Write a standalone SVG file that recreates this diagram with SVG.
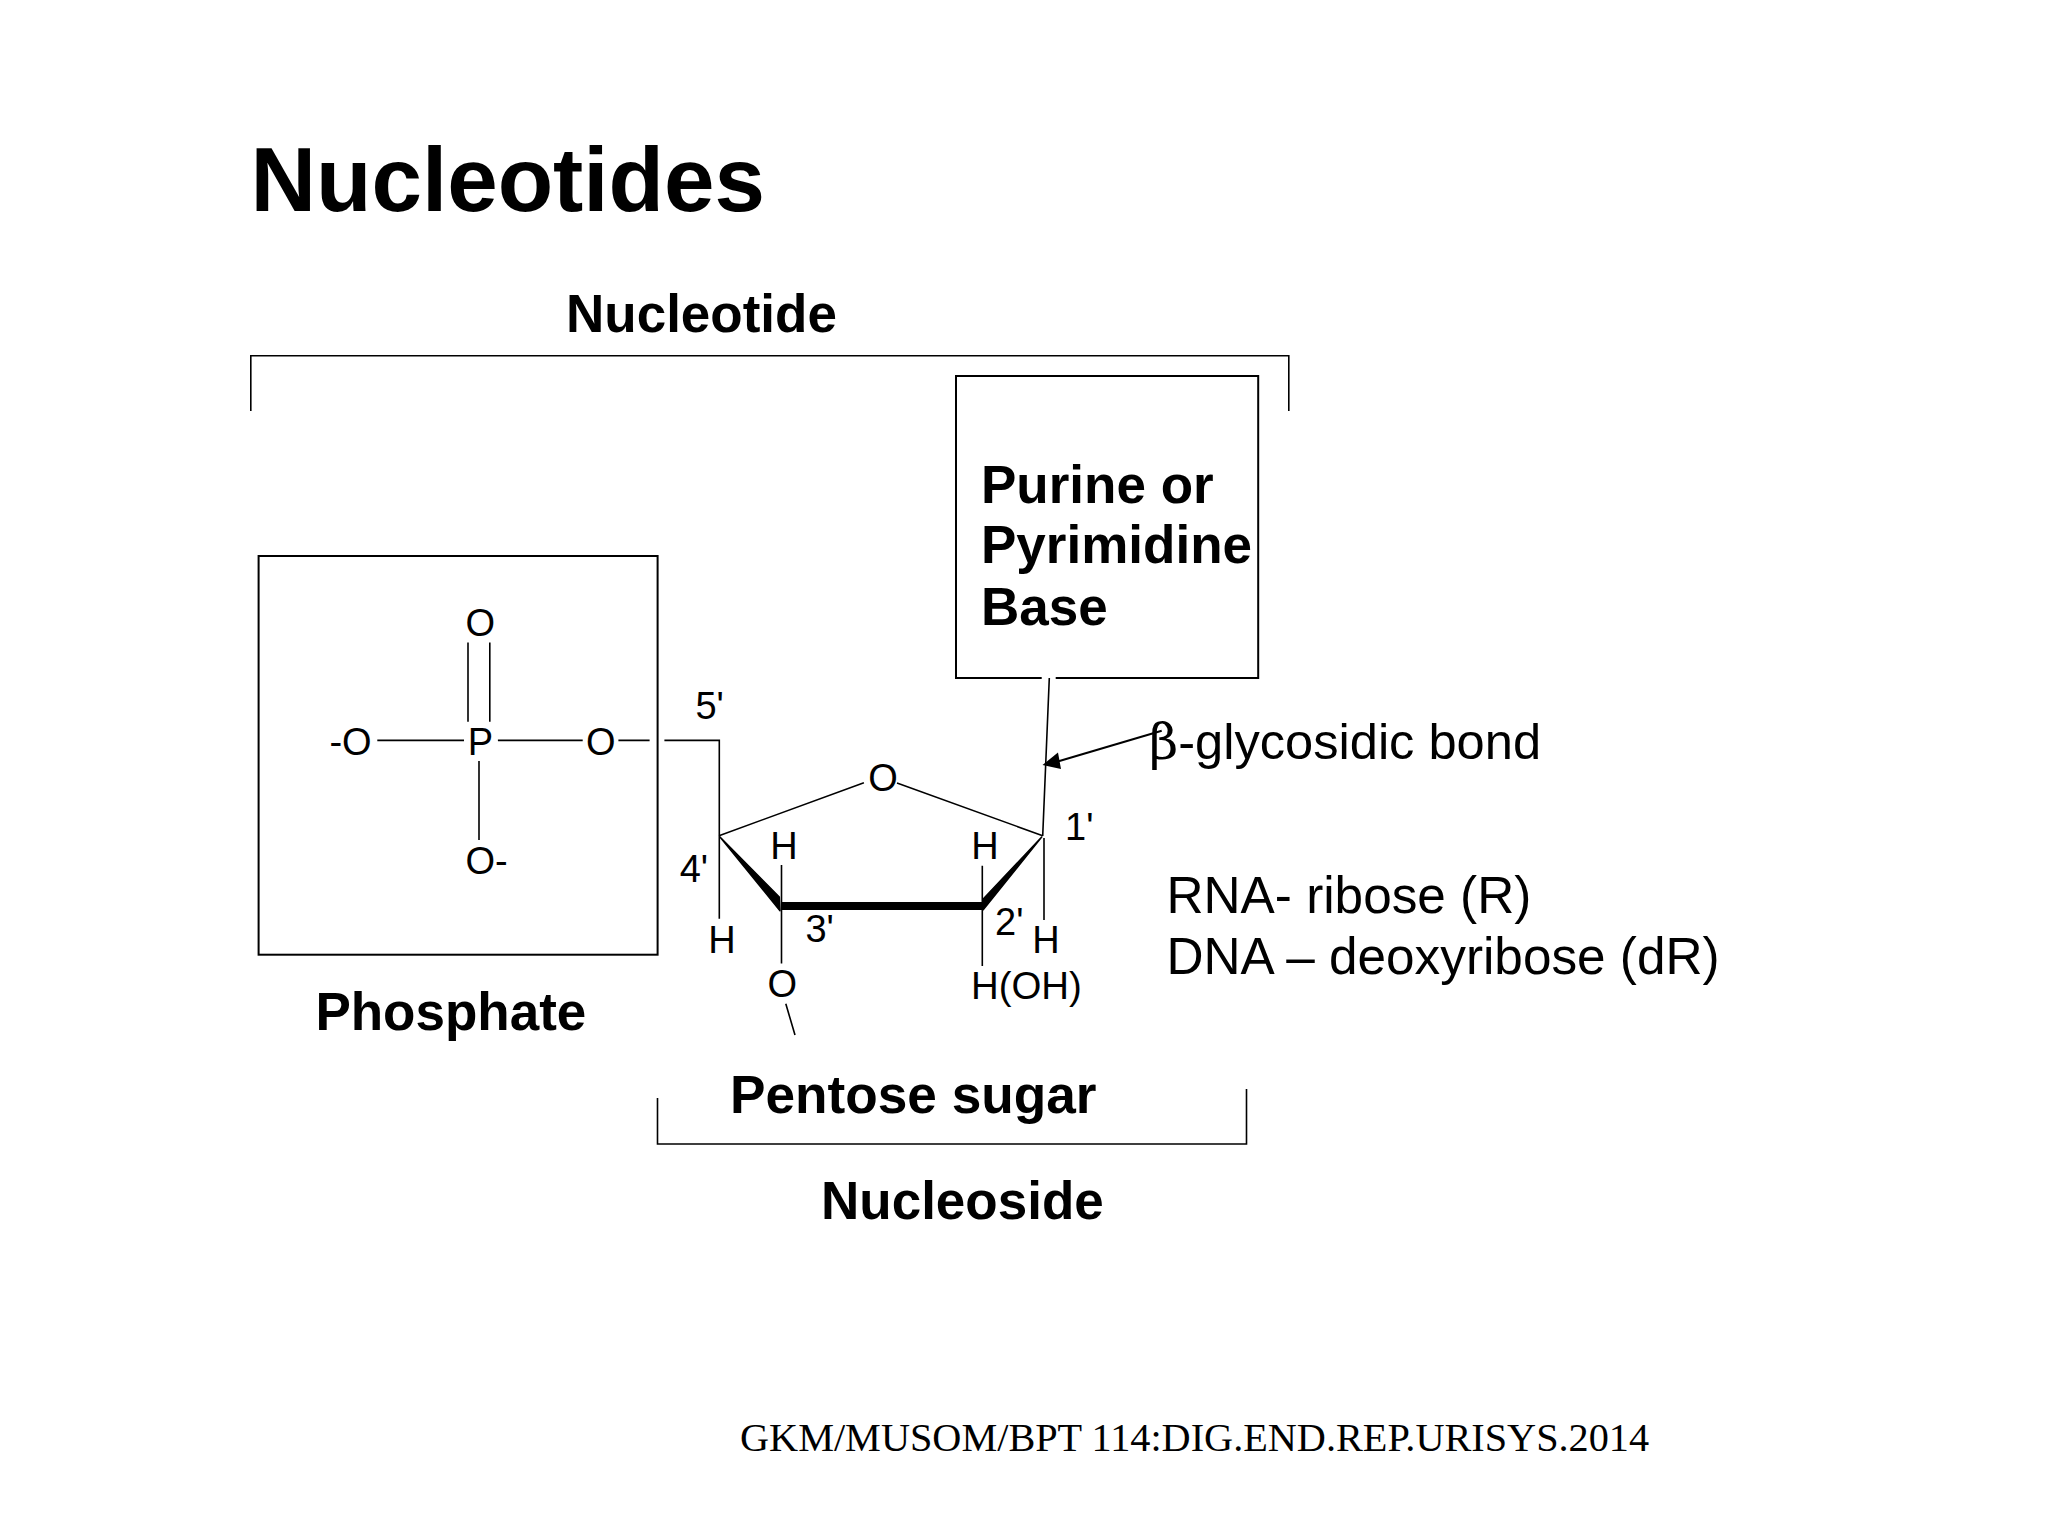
<svg xmlns="http://www.w3.org/2000/svg" width="2048" height="1536" viewBox="0 0 2048 1536">
<style>
text{font-family:"Liberation Sans",Arial,sans-serif;fill:#000}
.b{font-weight:700;font-size:53px}
.s{font-size:38px}
.m{font-size:51.300px}
.c{text-anchor:middle}
.l{fill:none;stroke:#000;stroke-width:1.6}
.bx{fill:none;stroke:#000;stroke-width:2}
.w{fill:#000;stroke:#000;stroke-width:1.5;stroke-linejoin:round}
</style>
<rect width="2048" height="1536" fill="#fff"/>
<text id="title" x="250.400" y="211" font-size="90.800" font-weight="700">Nucleotides</text>
<text class="b" x="566" y="331.700">Nucleotide</text>
<g id="phosphate">
<rect class="bx" x="258.600" y="556" width="399" height="398.700"/>
<text class="s c" x="480.400" y="636">O</text>
<text class="s c" x="350.500" y="755">-O</text>
<text class="s c" x="480.400" y="755">P</text>
<text class="s c" x="600.700" y="755">O</text>
<text class="s" x="465.400" y="873.500">O-</text>
<text class="b" x="315.400" y="1030">Phosphate</text>
</g>
<g id="base">
<path class="bx" d="M1041.700 677.900H956V376H1258.200V677.900H1055.700"/>
<text class="b" x="981" y="503.400">Purine or</text>
<text class="b" x="981" y="563.400">Pyrimidine</text>
<text class="b" x="981" y="624.500">Base</text>
</g>
<g id="sugar">
<text class="s c" x="883" y="791">O</text>
<text class="s" x="695.400" y="719.400">5'</text>
<text class="s" x="679.700" y="882">4'</text>
<text class="s" x="805.400" y="942">3'</text>
<text class="s" x="995" y="935">2'</text>
<text class="s" x="1065" y="840">1'</text>
<text class="s c" x="784" y="859">H</text>
<text class="s c" x="985" y="859">H</text>
<text class="s c" x="722" y="953">H</text>
<text class="s c" x="1046" y="952.500">H</text>
<text class="s c" x="782.400" y="997">O</text>
<text class="s" x="971" y="999" style="font-size:38.400px">H(OH)</text>
<text class="b" x="730" y="1113" style="font-size:53.200px">Pentose sugar</text>
</g>
<g id="connectors">
<path class="l" d="M250.800 411V355.700H1288.800V411"/>
<path class="l" d="M657.500 1098V1144H1246.500V1089"/>
<path class="l" d="M468 642.600V721.800M489.800 642.600V721.800M377.300 740.400H464M497.900 740.400H582.700M618.400 740.400H649.600M664.400 740.400H719.300V918.800M479 761V840"/>
<path class="l" d="M719 835.700L863.900 782.800M897 783L1042.700 835.700"/>
<path class="w" d="M720 837L779.300 897L780 910.700Z"/>
<path d="M781 902H982V910H781Z" fill="#000"/>
<path class="w" d="M983.200 899L1041.700 837L983.200 909.700Z"/>
<path class="l" d="M1049.300 678L1042.700 836M1044 838V920M781.500 865V963.500M982.300 865.800V966M785.800 1003.800L795 1035"/>
<path d="M1161.700 730.700L1056 762" fill="none" stroke="#000" stroke-width="2"/>
<path d="M1042.500 765L1058 752.500L1061 769Z" fill="#000"/>
</g>
<text x="1149" y="759.400" font-size="50.600"><tspan font-family="DejaVu Serif,serif">β</tspan><tspan>-glycosidic bond</tspan></text>
<text class="m" x="1166.500" y="912.500">RNA- ribose (R)</text>
<text class="m" x="1166.500" y="974">DNA – deoxyribose (dR)</text>
<text class="b" x="821" y="1218.500">Nucleoside</text>
<text x="740" y="1450.500" font-size="40.250" style="font-family:'Liberation Serif',serif">GKM/MUSOM/BPT 114:DIG.END.REP.URISYS.2014</text>
</svg>
